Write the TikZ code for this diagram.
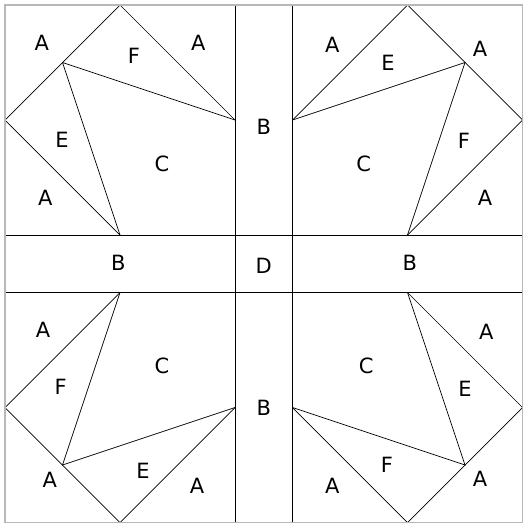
\documentclass[tikz,border=0pt]{standalone}
\usepackage{fontspec}
\setmainfont{DejaVu Sans}
\begin{document}
\begin{tikzpicture}[x=57.5pt,y=-57.5pt,
  seam/.style={draw=black,line width=0.7pt},
  frame/.style={draw=black!28,line width=1.6pt},
  lbl/.style={font=\fontsize{21}{21}\selectfont,inner sep=0pt}]
\useasboundingbox (-0.087,-0.087) rectangle (9.165,9.13);
\fill[white] (-0.087,-0.087) rectangle (9.165,9.13);
% sashing
\draw[seam] (4,0) -- (4,9) (5,0) -- (5,9) (0,4) -- (9,4) (0,5) -- (9,5);
% top-left block
\coordinate (p1) at (1,1);
\draw[seam] (4,2) -- (2,0) -- (0,2) -- (2,4);
\draw[seam] (4,2) -- (p1) -- (2,4);
% top-right block
\coordinate (p2) at (8,1);
\draw[seam] (5,2) -- (7,0) -- (9,2) -- (7,4);
\draw[seam] (5,2) -- (p2) -- (7,4);
% bottom-left block
\coordinate (p3) at (1,8);
\draw[seam] (2,5) -- (0,7) -- (2,9) -- (4,7);
\draw[seam] (2,5) -- (p3) -- (4,7);
% bottom-right block
\coordinate (p4) at (8,8);
\draw[seam] (7,5) -- (9,7) -- (7,9) -- (5,7);
\draw[seam] (7,5) -- (p4) -- (5,7);
% outer frame
\draw[frame] (0,0) rectangle (9,9);
% labels top-left
\node[lbl] (tlA1) at (0.64,0.66) {A};
\node[lbl] (tlF) at (2.24,0.88) {F};
\node[lbl] (tlA2) at (3.36,0.66) {A};
\node[lbl] (tlE) at (0.99,2.35) {E};
\node[lbl] (tlC) at (2.73,2.76) {C};
\node[lbl] (tlA3) at (0.70,3.36) {A};
% labels top-right
\node[lbl] (trA1) at (5.69,0.70) {A};
\node[lbl] (trE) at (6.66,1.01) {E};
\node[lbl] (trA2) at (8.26,0.76) {A};
\node[lbl] (trC) at (6.24,2.76) {C};
\node[lbl] (trF) at (7.98,2.37) {F};
\node[lbl] (trA3) at (8.35,3.36) {A};
% sashing labels
\node[lbl] (bTop) at (4.50,2.12) {B};
\node[lbl] (bLeft) at (1.97,4.49) {B};
\node[lbl] (dMid) at (4.50,4.54) {D};
\node[lbl] (bRight) at (7.04,4.49) {B};
\node[lbl] (bBot) at (4.50,7.01) {B};
% labels bottom-left
\node[lbl] (blA1) at (0.66,5.65) {A};
\node[lbl] (blF) at (0.97,6.64) {F};
\node[lbl] (blC) at (2.73,6.28) {C};
\node[lbl] (blA2) at (0.78,8.26) {A};
\node[lbl] (blE) at (2.40,8.10) {E};
\node[lbl] (blA3) at (3.34,8.37) {A};
% labels bottom-right
\node[lbl] (brA1) at (8.37,5.69) {A};
\node[lbl] (brC) at (6.28,6.28) {C};
\node[lbl] (brE) at (8.00,6.68) {E};
\node[lbl] (brF) at (6.64,8.00) {F};
\node[lbl] (brA2) at (5.69,8.37) {A};
\node[lbl] (brA3) at (8.26,8.24) {A};
\end{tikzpicture}
\end{document}
